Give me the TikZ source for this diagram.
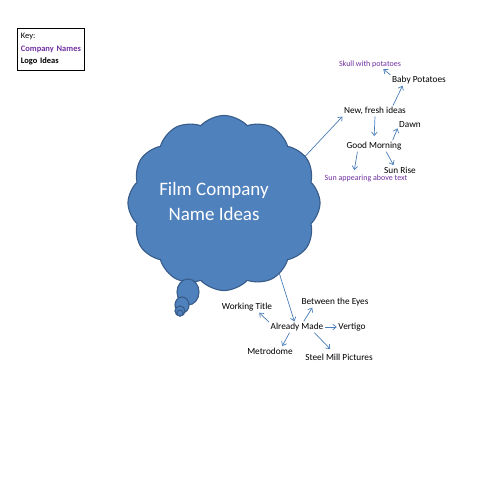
\documentclass[tikz,border=0pt]{standalone}
\usepackage{fontspec}
\setmainfont{Carlito}
\usetikzlibrary{arrows.meta,shapes.symbols}

\definecolor{cloudblue}{HTML}{4F81BD}
\definecolor{cloudline}{HTML}{385D8A}
\definecolor{linkblue}{HTML}{4A7EBB}
\definecolor{logopurple}{HTML}{7030A0}

\begin{document}
\begin{tikzpicture}[x=0.025cm,y=-0.025cm,>={Straight Barb[length=2.5pt,width=4pt]},
	idea/.style={inner sep=1pt,font=\fontsize{6.6}{8}\selectfont},
	logo/.style={inner sep=1pt,text=logopurple,font=\fontsize{5.7}{7}\selectfont},
	link/.style={->,color=linkblue,line width=0.5pt},
	bubble/.style={fill=cloudblue,draw=cloudline,line width=0.8pt}]
\useasboundingbox (0,0) rectangle (480,480);

% key
\node[draw,line width=0.6pt,anchor=north west,align=left,text width=1.5cm,inner xsep=2.5pt,inner ysep=3.5pt,font=\fontsize{6}{8.9}\selectfont] (key) at (17,28) {Key:\\\textcolor{logopurple}{\bfseries Company Names}\\\bfseries Logo Ideas};

% cloud and its tail
\node[cloud,cloud puffs=12,cloud puff arc=95,aspect=1.15,shape border rotate=8,bubble,minimum width=4.8cm,minimum height=4.375cm] (cloud) at (224,203) {};
\filldraw[bubble] (188,292) circle[x radius=11,y radius=13];
\filldraw[bubble] (182,305) circle[x radius=7,y radius=8];
\filldraw[bubble] (180,311) circle[radius=5];
\filldraw[bubble] (180,313) circle[radius=3];
\node[text=white,align=center,font=\fontsize{13.5}{17.8}\selectfont] (title) at (214,201) {Film Company\\Name Ideas};

% upper branch
\node[idea] (newfresh) at (375,111) {New, fresh ideas};
\node[idea] (babypot) at (419,80) {Baby Potatoes};
\node[logo] (skull) at (370,64) {Skull with potatoes};
\node[idea] (goodmorn) at (374,146) {Good Morning};
\node[idea] (dawn) at (410,125) {Dawn};
\node[idea] (sunrise) at (400,170) {Sun Rise};
\node[logo] (sunabove) at (366,178) {Sun appearing above text};

\draw[link] (cloud.30) -- (newfresh.south west);
\draw[link] (newfresh.17) -- (babypot.199);
\draw[link] (babypot.170) -- (skull.-21);
\draw[link,shorten >=3pt] (newfresh.south) -- (goodmorn.north);
\draw[link] (goodmorn.17) -- (dawn.195);
\draw[link] (goodmorn.-25) -- (sunrise.143);
\draw[link,shorten >=2pt] (goodmorn.199) -- (sunabove.157);

% lower branch
\node[idea] (already) at (297,327) {Already Made};
\node[idea] (worktitle) at (247,307) {Working Title};
\node[idea] (between) at (335,302) {Between the Eyes};
\node[idea] (vertigo) at (352,327) {Vertigo};
\node[idea] (metro) at (270,351) {Metrodome};
\node[idea] (steel) at (339,357) {Steel Mill Pictures};

\draw[link] (cloud.-52) -- (already.115);
\draw[link] (already.170) -- (worktitle.-25);
\draw[link] (already.40) -- (between.194);
\draw[link] (already.east) -- (vertigo.west);
\draw[link] (already.217) -- (metro.22);
\draw[link,shorten >=3pt] (already.-18) -- (steel.140);

\end{tikzpicture}
\end{document}
